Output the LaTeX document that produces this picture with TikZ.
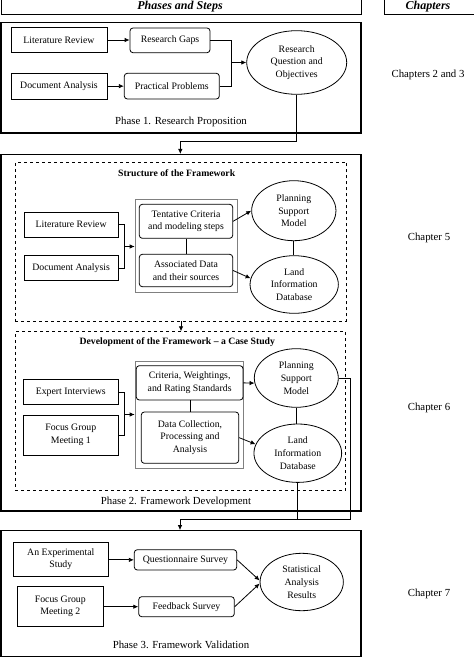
\documentclass[tikz,border=0pt]{standalone}
\usepackage{fontspec}
\setmainfont{Liberation Serif}
\usetikzlibrary{shapes.geometric,arrows.meta}
\begin{document}
\begin{tikzpicture}[x=1pt,y=-1pt,
  txt/.style={font=\fontsize{9.8}{12.7}\selectfont, align=center, inner sep=0pt},
  box/.style={txt, draw, line width=0.8pt, rectangle},
  rbox/.style={box, rounded corners=3pt},
  ell/.style={txt, draw, line width=0.8pt, ellipse},
  phase/.style={draw, line width=1.1pt, rectangle, inner sep=0pt},
  dbox/.style={draw, dashed, line width=0.8pt, rectangle, inner sep=0pt},
  gbox/.style={draw, gray, line width=0.6pt, rectangle, inner sep=0pt},
  lbl/.style={font=\fontsize{10.8}{13}\selectfont, inner sep=0pt},
  ttl/.style={font=\fontsize{9.7}{12}\selectfont\bfseries, inner sep=0pt},
  hdr/.style={font=\fontsize{12}{14}\selectfont\bfseries\itshape, inner sep=0pt},
  ln/.style={line width=0.8pt},
  arr/.style={line width=0.8pt, -{Latex[length=5pt,width=4.5pt]}},
  sz/.style 2 args={minimum width=#1, minimum height=#2}
]
\useasboundingbox (0,0) rectangle (474,658);
% headers
\draw[line width=0.9pt] (1,0) -- (1,14.5) -- (361,14.5) -- (361,0);
\draw[line width=0.9pt] (384.5,0) -- (384.5,14.5) -- (474,14.5);
\node[hdr] (h1) at (180,6.5) {Phases and Steps};
\node[hdr] (h2) at (428,6.5) {Chapters};
% chapters
\node[lbl] (ch1) at (428,74.7) {Chapters 2 and 3};
\node[lbl] (ch2) at (429,238) {Chapter 5};
\node[lbl] (ch3) at (429,408.3) {Chapter 6};
\node[lbl] (ch4) at (429,594) {Chapter 7};

% Phase 1
\node[phase, sz={360}{110.3}] (p1) at (181,77.85) {};
\node[box, sz={96}{24.6}] (lr1) at (59,40) {Literature Review};
\node[rbox, sz={80}{24.7}] (rg1) at (170,40.35) {Research Gaps};
\node[box, sz={96}{25.7}] (da1) at (59,86.15) {Document Analysis};
\node[rbox, sz={95}{25.7}] (pp1) at (171.8,86.15) {Practical Problems};
\node[ell, sz={100}{63.6}] (rq) at (296.7,62.5) {Research\\Question and\\Objectives};
\node[lbl] (l1) at (181,122) {Phase 1. Research Proposition};
\draw[arr] (lr1.east) -- (lr1.east -| rg1.west);
\draw[arr] (da1.east) -- (da1.east -| pp1.west);
\coordinate (m1) at (231.7,62.5);
\draw[ln] (rg1.east) -| (m1);
\draw[ln] (pp1.east) -| (m1);
\draw[arr] (m1) -- (rq.west);

% Phase 2
\node[phase, sz={360}{356.5}] (p2) at (181,332.75) {};
\coordinate (c1) at (180.3,141.7);
\draw[ln] (rq.south) |- (c1);
\draw[arr] (c1) -- (c1 |- p2.north);

\node[dbox, sz={331.4}{158.7}] (d1) at (181,241.65) {};
\node[ttl] (t1) at (176.7,172.7) {Structure of the Framework};
\node[box, sz={94.3}{25}] (lr2) at (71.15,224.8) {Literature Review};
\node[box, sz={94.3}{25.4}] (da2) at (71.15,268) {Document Analysis};
\node[gbox, sz={102}{93.3}] (g1) at (186,245.65) {};
\node[rbox, sz={93.4}{34}] (tc) at (186,221.3) {Tentative Criteria\\and modeling steps};
\node[rbox, sz={93.4}{32.4}] (ad) at (186,270.5) {Associated Data\\and their sources};
\node[ell, sz={84.3}{60}] (psm1) at (293.8,210.7) {Planning\\Support\\Model};
\node[ell, sz={88.3}{57.6}] (lid1) at (294.2,284.5) {Land\\Information\\Database};
\draw[ln] (lr2.east) -- ++(5.7,0) |- (da2.east);
\coordinate (b1) at (124,246.5);
\draw[arr] (b1) -- (b1 -| g1.west);
\draw[ln] (tc.south) -- (ad.north);
\draw[ln] (psm1.south) -- (psm1.south |- lid1.north);
\draw[arr] (tc.east) -- (psm1.west);
\draw[arr] (ad.east) -- (lid1.172);

\node[dbox, sz={330.4}{159}] (d2) at (180.5,411.2) {};
\draw[arr] (d1.south) -- (d1.south |- d2.north);
\node[ttl] (t2) at (177.3,341.7) {Development of the Framework -- a Case Study};
\node[box, sz={95}{24.6}] (ei) at (70.8,392) {Expert Interviews};
\node[box, sz={95}{40}] (fg1) at (70.8,435) {Focus Group\\Meeting 1};
\node[gbox, sz={108.7}{107}] (g2) at (189.35,414.8) {};
\node[rbox, sz={106.7}{34.3}] (cw) at (189.65,382.85) {Criteria, Weightings,\\and Rating Standards};
\node[rbox, sz={97.4}{51.3}] (dc) at (190,437.65) {Data Collection,\\Processing and\\Analysis};
\node[ell, sz={84}{58.6}] (psm2) at (296.3,378) {Planning\\Support\\Model};
\node[ell, sz={87.7}{58.4}] (lid2) at (297.8,453.2) {Land\\Information\\Database};
\draw[ln] (ei.east) -- ++(5.7,0) |- (fg1.east);
\coordinate (b2) at (124,414.5);
\draw[arr] (b2) -- (b2 -| g2.west);
\draw[ln] (cw.south -| dc.north) -- (dc.north);
\draw[ln] (psm2.south) -- (psm2.south |- lid2.north);
\draw[arr] (cw.east) -- (psm2.187);
\draw[arr] (dc.east) -- (lid2.168);
\node[lbl] (l2) at (176,502.3) {Phase 2. Framework Development};

% Phase 3
\node[phase, sz={360}{126}] (p3) at (181,593.7) {};
\coordinate (j1) at (350,519);
\coordinate (j2) at (180,519);
\draw[ln] (psm2.east) -| (j1) -- (j2);
\draw[ln] (lid2.south) -- (lid2.south |- j1);
\draw[arr] (j2) -- (j2 |- p3.north);

\node[box, sz={95}{34}] (aes) at (60.8,559.3) {An Experimental\\Study};
\node[box, sz={86}{40}] (fg2) at (60.3,606.3) {Focus Group\\Meeting 2};
\node[rbox, sz={102.4}{20.3}] (qs) at (185.5,559.85) {Questionnaire Survey};
\node[rbox, sz={95.6}{20}] (fs) at (186.5,606.7) {Feedback Survey};
\node[ell, sz={83.3}{57.4}] (sar) at (301.7,582) {Statistical\\Analysis\\Results};
\draw[arr] (aes.east |- qs.west) -- (qs.west);
\draw[arr] (fg2.east |- fs.west) -- (fs.west);
\draw[arr] (qs.east) -- ([yshift=1.5pt]sar.west);
\draw[arr] (fs.east) -- ([yshift=-1.5pt]sar.west);
\node[lbl] (l3) at (181,645) {Phase 3. Framework Validation};
\end{tikzpicture}
\end{document}
